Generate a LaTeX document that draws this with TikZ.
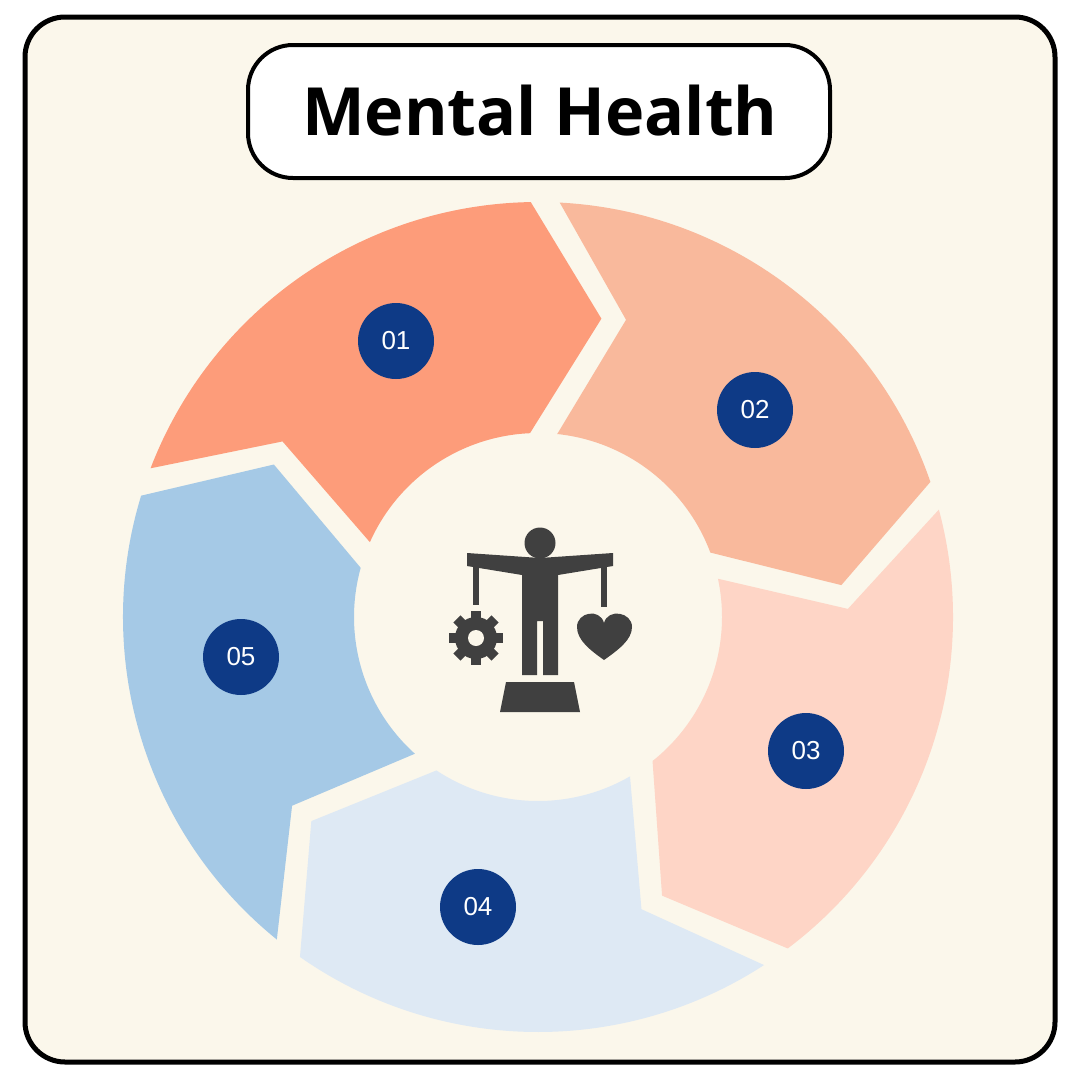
\documentclass[tikz,border=0pt]{standalone}
\usepackage{fontspec}
\setmainfont{Open Sans}
\newfontfamily\numfont{Liberation Sans}
\definecolor{bgc}{HTML}{FBF7EB}
\definecolor{sa}{HTML}{FD9C7A}
\definecolor{sb}{HTML}{F9B99C}
\definecolor{sc}{HTML}{FED5C6}
\definecolor{sd}{HTML}{DEE9F4}
\definecolor{se}{HTML}{A5C9E6}
\definecolor{navy}{HTML}{0E3A86}
\definecolor{icon}{HTML}{404040}
\tikzset{numdot/.style={circle,fill=navy,minimum size=76pt,inner sep=0,text=white,font=\numfont\fontsize{26}{26}\selectfont}}
\newcommand{\seg}[2]{%
 \fill[#2] ({538+415*cos(#1)},{617-415*sin(#1)}) arc[start angle=-#1,end angle=-#1+68,radius=415]
  -- ({538+305*cos(#1-81)},{617-305*sin(#1-81)})
  -- ({538+184*cos(#1-66.5)},{617-184*sin(#1-66.5)}) arc[start angle=-#1+66.5,end angle=-#1+3,radius=184]
  -- ({538+310*cos(#1-13.5)},{617-310*sin(#1-13.5)}) -- cycle;}
\begin{document}
\begin{tikzpicture}[x=1pt,y=-1pt]
\useasboundingbox (0,0) rectangle (1080,1080);
\draw[line width=5pt,fill=bgc,rounded corners=40pt] (25,17) rectangle (1055,1062);
\seg{159}{sa}
\seg{87}{sb}
\seg{15}{sc}
\seg{-57}{sd}
\seg{-129}{se}
\node[draw,line width=4pt,fill=white,rounded corners=45pt,minimum width=582pt,minimum height=133pt] (title) at (539,111.5) {};
\node[font=\bfseries\fontsize{66.5}{66.5}\selectfont] (tt) at (540,111) {Mental Health};
\node[numdot] (n1) at (396,341) {01};
\node[numdot] (n2) at (755,410) {02};
\node[numdot] (n3) at (806,751) {03};
\node[numdot] (n4) at (478,907) {04};
\node[numdot] (n5) at (241,657) {05};
% icon
\fill[icon] (540,543) circle (15.5);
\fill[icon] (467,553) -- (540,558) -- (613,553) -- (613,566) -- (558,575) -- (558,675) -- (543,675) -- (543,621) -- (537,621) -- (537,675) -- (522,675) -- (522,575) -- (467,566) -- cycle;
\fill[icon] (473,566) rectangle (479,605);
\fill[icon] (601,566) rectangle (607,607);
\fill[icon] (506,682) -- (574,682) -- (580,712) -- (500,712) -- cycle;
\foreach \a in {0,45,...,315}{\fill[icon,rotate around={\a:(476,638)}] (471,611) rectangle (481,624);}
\fill[icon] (476,638) circle (21);
\fill[bgc] (476,638) circle (8);
\fill[icon] (604,660) .. controls (590,650) and (577,640) .. (577,627)
 .. controls (577,612) and (600,608) .. (604,623)
 .. controls (608,608) and (632,612) .. (632,627)
 .. controls (632,640) and (618,650) .. (604,660) -- cycle;
\end{tikzpicture}
\end{document}
